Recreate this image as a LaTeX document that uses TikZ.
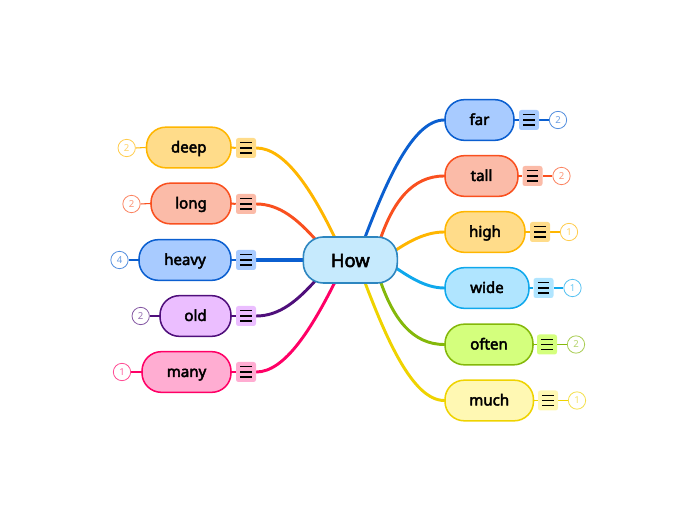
\documentclass[tikz,border=0pt]{standalone}
\usepackage{fontspec}
\setmainfont{Noto Sans}[AutoFakeBold=3]
\usetikzlibrary{backgrounds}
\tikzset{
 x=0.75pt,y=-0.75pt,
 topic/.style={draw=#1,line width=1.15pt,rounded corners=14.5pt,inner sep=0pt,anchor=center,text height=9.2pt,text depth=1.8pt,font=\bfseries\fontsize{11.3}{12}\selectfont,text=black},
 root/.style={draw=rootline,fill=rootfill,line width=1.2pt,rounded corners=15pt,inner sep=0pt,text height=10.5pt,text depth=0pt,font=\bfseries\fontsize{13.8}{15}\selectfont,text=black},
 notebox/.style={fill=#1,rounded corners=1.8pt,minimum width=15pt,minimum height=15pt,inner sep=0pt},
 countc/.style={draw=#1,circle,fill=white,line width=0.6pt,minimum size=13pt,inner sep=0pt,font=\fontsize{7.2}{8}\selectfont},
 branch/.style={draw=#1,line width=2.2pt,line cap=round},
 stub/.style={draw=#1,line width=0.8pt},
 menuline/.style={draw=black,line width=0.85pt},
}
\definecolor{rootfill}{HTML}{C6EAFD}\definecolor{rootline}{HTML}{2D86C0}
\definecolor{lblue}{HTML}{0B5FD0}\definecolor{fblue}{HTML}{A8CBFF}
\definecolor{lred}{HTML}{F9501F}\definecolor{fred}{HTML}{FBBBA8}
\definecolor{lamber}{HTML}{FFB600}\definecolor{famber}{HTML}{FFDC8A}
\definecolor{lsky}{HTML}{0FA8EC}\definecolor{fsky}{HTML}{B0E5FF}
\definecolor{lgreen}{HTML}{84B80A}\definecolor{fgreen}{HTML}{D4FF7D}
\definecolor{lyellow}{HTML}{EFD300}\definecolor{fyellow}{HTML}{FFF8B3}
\definecolor{lpurple}{HTML}{4F0F7B}\definecolor{fpurple}{HTML}{EBBEFF}
\definecolor{lpink}{HTML}{FF0066}\definecolor{fpink}{HTML}{FFADD2}
\newcommand{\topicitem}[7]{%
 \node[topic=#6,fill=#7,minimum width=#4*0.75pt-#3*0.75pt,minimum height=30.5pt] (#1) at ({(#3+#4)/2},#5) {#2};
}
\newcommand{\noteicon}[1]{%
 \draw[menuline] ([xshift=-4.3pt,yshift=3.8pt]#1.center) -- ([xshift=4.3pt,yshift=3.8pt]#1.center);
 \draw[menuline] ([xshift=-4.3pt]#1.center) -- ([xshift=4.3pt]#1.center);
 \draw[menuline] ([xshift=-4.3pt,yshift=-3.8pt]#1.center) -- ([xshift=4.3pt,yshift=-3.8pt]#1.center);
}
\begin{document}
\begin{tikzpicture}
\useasboundingbox (0,0) rectangle (697,520);
\node[root,minimum width=70.5pt,minimum height=34.5pt] (how) at (350.3,260) {How};

% left
\topicitem{deep}{deep}{146.5}{231}{147.5}{lamber}{famber}
\topicitem{long}{long}{151}{231}{203.5}{lred}{fred}
\topicitem{heavy}{heavy}{139}{231}{260}{lblue}{fblue}
\topicitem{old}{old}{160}{231}{316}{lpurple}{fpurple}
\topicitem{many}{many}{142}{231}{372}{lpink}{fpink}
% right
\topicitem{far}{far}{445}{514}{120}{lblue}{fblue}
\topicitem{tall}{tall}{445}{518}{176}{lred}{fred}
\topicitem{high}{high}{445}{525}{232}{lamber}{famber}
\topicitem{wide}{wide}{445}{529}{288}{lsky}{fsky}
\topicitem{often}{often}{445}{533}{344.5}{lgreen}{fgreen}
\topicitem{much}{much}{445}{533.5}{400.5}{lyellow}{fyellow}

% notes
\node[notebox=famber] (ndeep) at (246,148) {};
\node[notebox=fred] (nlong) at (246,204) {};
\node[notebox=fblue] (nheavy) at (246,260) {};
\node[notebox=fpurple] (nold) at (246,316) {};
\node[notebox=fpink] (nmany) at (246,372) {};
\node[notebox=fblue] (nfar) at (529,120) {};
\node[notebox=fred] (ntall) at (532.5,176) {};
\node[notebox=famber] (nhigh) at (540,232) {};
\node[notebox=fsky] (nwide) at (543.5,288) {};
\node[notebox=fgreen] (noften) at (547,344.5) {};
\node[notebox=fyellow] (nmuch) at (548,400.5) {};
\noteicon{ndeep}\noteicon{nlong}\noteicon{nheavy}\noteicon{nold}\noteicon{nmany}
\noteicon{nfar}\noteicon{ntall}\noteicon{nhigh}\noteicon{nwide}\noteicon{noften}\noteicon{nmuch}

% counts
\node[countc=lamber!70,text=lamber!60] (cdeep) at (126.7,148) {2};
\node[countc=lred!70,text=lred!60] (clong) at (131.5,204) {2};
\node[countc=lblue!70,text=lblue!60] (cheavy) at (119.5,260) {4};
\node[countc=lpurple!70,text=lpurple!60] (cold) at (140.7,316) {2};
\node[countc=lpink!70,text=lpink!60] (cmany) at (122,372) {1};
\node[countc=lblue!70,text=lblue!60] (cfar) at (558,120) {2};
\node[countc=lred!70,text=lred!60] (ctall) at (561.5,176) {2};
\node[countc=lamber!70,text=lamber!60] (chigh) at (569,232) {1};
\node[countc=lsky!70,text=lsky!60] (cwide) at (572.5,288) {1};
\node[countc=lgreen!70,text=lgreen!60] (coften) at (576,344.5) {2};
\node[countc=lyellow!70,text=lyellow!60] (cmuch) at (577,400.5) {1};

% points just inside the border of the central topic, where the branches end
\coordinate (hdeep) at (336,240);
\coordinate (hlong) at (316,240);
\coordinate (hold) at (316,280);
\coordinate (hmany) at (336,280);
\coordinate (hfar) at (364,240);
\coordinate (htall) at (380,240);
\coordinate (hhigh) at (393,252);
\coordinate (hwide) at (393,266);
\coordinate (hoften) at (380,280);
\coordinate (hmuch) at (364,280);

\begin{scope}[on background layer]
 \draw[branch=lamber] (ndeep.east) .. controls (285,148) and (312,190) .. (hdeep);
 \draw[branch=lred] (nlong.east) .. controls (280,204) and (298,220) .. (hlong);
 \draw[branch=lblue,line width=2.9pt] (nheavy.east) -- (how.west);
 \draw[branch=lpurple] (nold.east) .. controls (280,316) and (298,300) .. (hold);
 \draw[branch=lpink] (nmany.east) .. controls (285,372) and (312,328) .. (hmany);
 \draw[branch=lblue] (hfar) .. controls (385,185) and (412,120) .. (far.west);
 \draw[branch=lred] (htall) .. controls (393,202) and (412,176) .. (tall.west);
 \draw[branch=lamber] (hhigh) .. controls (408,242) and (425,232) .. (high.west);
 \draw[branch=lsky] (hwide) .. controls (408,276) and (425,288) .. (wide.west);
 \draw[branch=lgreen] (hoften) .. controls (393,318) and (412,344.5) .. (often.west);
 \draw[branch=lyellow] (hmuch) .. controls (385,335) and (412,400.5) .. (much.west);
 \draw[stub=lamber,line width=1.5pt] (deep.east) -- (ndeep.west);
 \draw[stub=lred,line width=1.5pt] (long.east) -- (nlong.west);
 \draw[stub=lblue,line width=1.5pt] (heavy.east) -- (nheavy.west);
 \draw[stub=lpurple,line width=1.5pt] (old.east) -- (nold.west);
 \draw[stub=lpink,line width=1.5pt] (many.east) -- (nmany.west);
 \draw[stub=lblue] (far.east) -- (nfar.west);
 \draw[stub=lred] (tall.east) -- (ntall.west);
 \draw[stub=lamber] (high.east) -- (nhigh.west);
 \draw[stub=lsky] (wide.east) -- (nwide.west);
 \draw[stub=lgreen] (often.east) -- (noften.west);
 \draw[stub=lyellow] (much.east) -- (nmuch.west);
 \draw[stub=lamber] (deep.west) -- (cdeep.east);
 \draw[stub=lred] (long.west) -- (clong.east);
 \draw[stub=lblue] (heavy.west) -- (cheavy.east);
 \draw[stub=lpurple] (old.west) -- (cold.east);
 \draw[stub=lpink] (many.west) -- (cmany.east);
 \draw[stub=lblue] (nfar.east) -- (cfar.west);
 \draw[stub=lred] (ntall.east) -- (ctall.west);
 \draw[stub=lamber] (nhigh.east) -- (chigh.west);
 \draw[stub=lsky] (nwide.east) -- (cwide.west);
 \draw[stub=lgreen] (noften.east) -- (coften.west);
 \draw[stub=lyellow] (nmuch.east) -- (cmuch.west);
\end{scope}
\end{tikzpicture}
\end{document}
